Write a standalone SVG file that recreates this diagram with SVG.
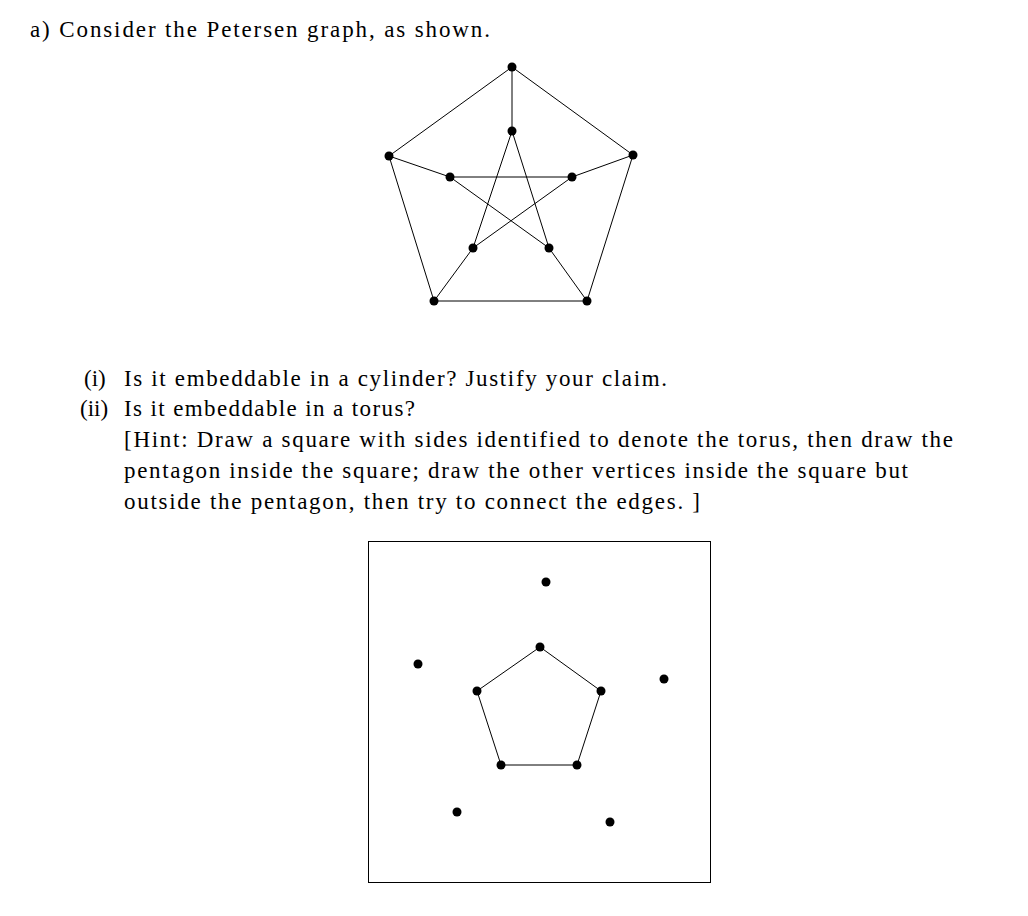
<svg xmlns="http://www.w3.org/2000/svg" width="1028" height="916" viewBox="0 0 1028 916">
<style>
text{font-family:"Liberation Serif",serif;font-size:23px;fill:#000}
.e line,.e polygon{stroke:#000;stroke-width:1;fill:none}
circle{fill:#000}
</style>
<rect width="1028" height="916" fill="#fff"/>
<text x="30" y="37" textLength="460" lengthAdjust="spacing">a)  Consider the Petersen graph, as shown.</text>
<g class="e" id="connectors">
<polygon points="512,67 633,155 587,301 434,301 389,156"/>
<line x1="512" y1="67" x2="512" y2="131"/>
<line x1="389" y1="156" x2="450" y2="177"/>
<line x1="633" y1="155" x2="572" y2="177"/>
<line x1="434" y1="301" x2="473" y2="248"/>
<line x1="587" y1="301" x2="549" y2="248"/>
<line x1="512" y1="131" x2="473" y2="248"/>
<line x1="512" y1="131" x2="549" y2="248"/>
<line x1="450" y1="177" x2="572" y2="177"/>
<line x1="450" y1="177" x2="549" y2="248"/>
<line x1="572" y1="177" x2="473" y2="248"/>
<polygon points="540,647 601,691 577,765 501,765 477,691"/>
</g>
<g id="nodes">
<g id="p1"><circle cx="512" cy="67" r="4.5"/></g>
<g id="p2"><circle cx="389" cy="156" r="4.5"/></g>
<g id="p3"><circle cx="633" cy="155" r="4.5"/></g>
<g id="p4"><circle cx="434" cy="301" r="4.5"/></g>
<g id="p5"><circle cx="587" cy="301" r="4.5"/></g>
<g id="p6"><circle cx="512" cy="131" r="4.5"/></g>
<g id="p7"><circle cx="450" cy="177" r="4.5"/></g>
<g id="p8"><circle cx="572" cy="177" r="4.5"/></g>
<g id="p9"><circle cx="473" cy="248" r="4.5"/></g>
<g id="p10"><circle cx="549" cy="248" r="4.5"/></g>
</g>
<text x="84" y="386">(i)</text><text x="124" y="386" textLength="543" lengthAdjust="spacing">Is it embeddable in a cylinder? Justify your claim.</text>
<text x="80" y="416">(ii)</text><text x="124" y="416" textLength="291" lengthAdjust="spacing">Is it embeddable in a torus?</text>
<text x="124" y="447" textLength="829" lengthAdjust="spacing">[Hint: Draw a square with sides identified to denote the torus, then draw the</text>
<text x="124" y="478" textLength="784" lengthAdjust="spacing">pentagon inside the square; draw the other vertices inside the square but</text>
<text x="124" y="509" textLength="576" lengthAdjust="spacing">outside the pentagon, then try to connect the edges. ]</text>
<rect x="368.5" y="541.5" width="342" height="341" fill="none" stroke="#000" stroke-width="1"/>
<g id="torus-nodes">
<g id="t1"><circle cx="546" cy="582" r="4.5"/></g>
<g id="t2"><circle cx="418" cy="664" r="4.5"/></g>
<g id="t3"><circle cx="664" cy="679" r="4.5"/></g>
<g id="t4"><circle cx="457" cy="812" r="4.5"/></g>
<g id="t5"><circle cx="610" cy="822" r="4.5"/></g>
<g id="q1"><circle cx="540" cy="647" r="4.5"/></g>
<g id="q2"><circle cx="477" cy="691" r="4.5"/></g>
<g id="q3"><circle cx="601" cy="691" r="4.5"/></g>
<g id="q4"><circle cx="501" cy="765" r="4.5"/></g>
<g id="q5"><circle cx="577" cy="765" r="4.5"/></g>
</g>
</svg>
